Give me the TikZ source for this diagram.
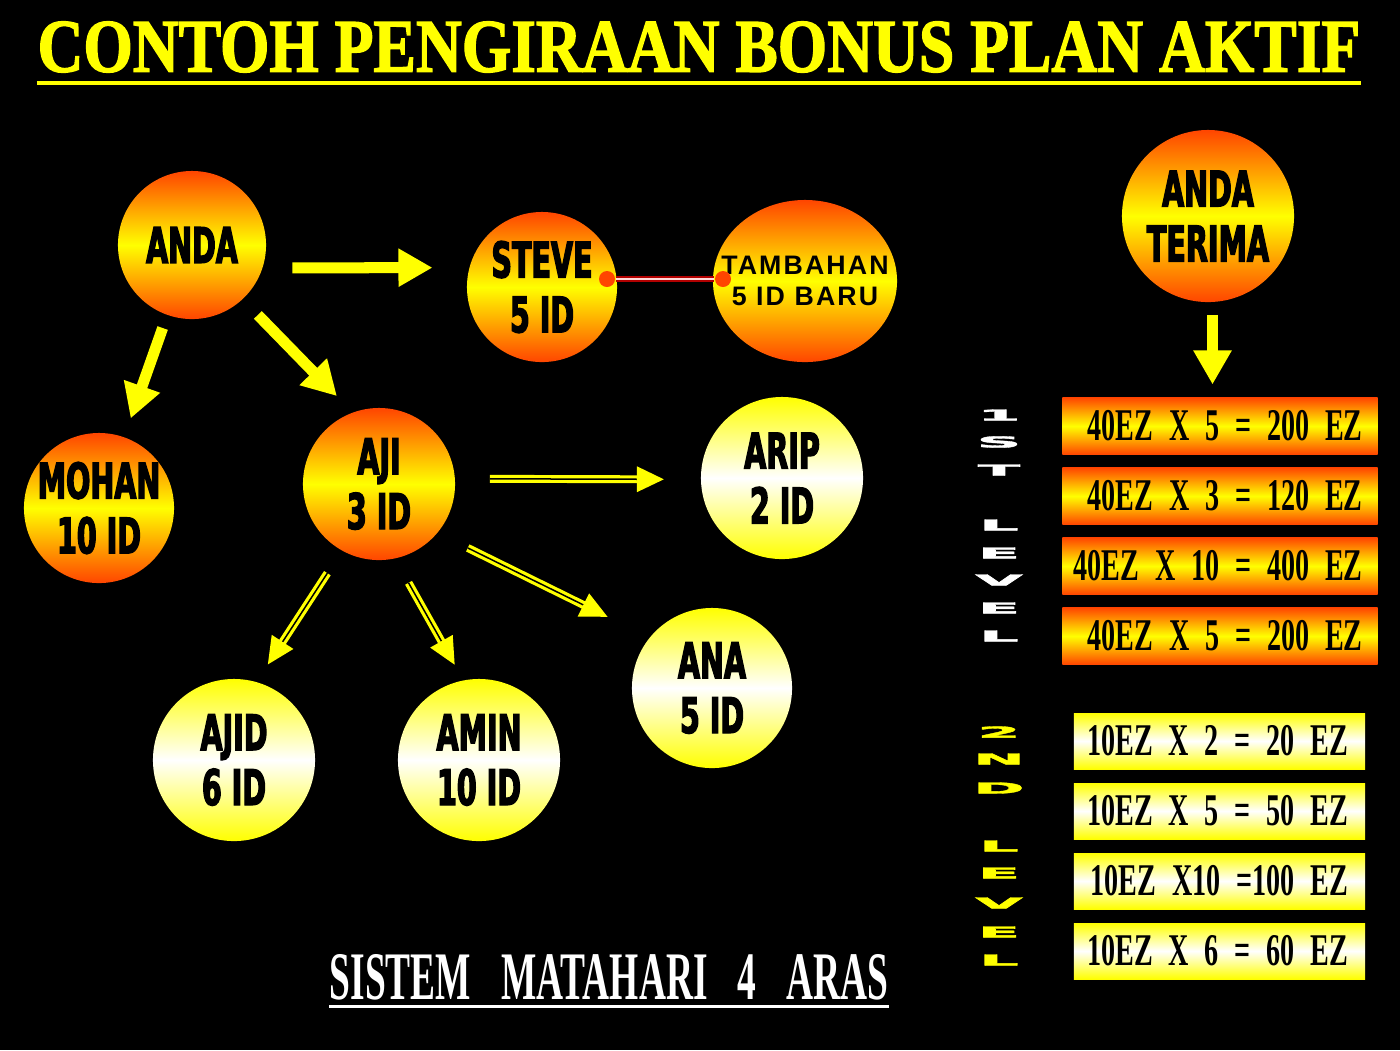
\documentclass[tikz,border=0pt]{standalone}
\usepackage{fontspec}
\usepackage{graphicx}
\usetikzlibrary{arrows.meta,shapes.geometric}

\newfontfamily\impact[FakeStretch=0.58,FakeBold=2.5]{DejaVu Sans Bold}
\newfontfamily\slab[FakeStretch=0.62,WordSpace=2.25]{Liberation Serif}
\newfontfamily\wide[LetterSpace=8]{Liberation Sans}
\newfontfamily\plaque[FakeBold=2]{Liberation Serif Bold}
\newfontfamily\capfont[WordSpace=3.2]{Liberation Serif}
\newfontfamily\stack[FakeBold=2]{DejaVu Sans Bold}

\definecolor{orangered}{RGB}{255,69,0}
\definecolor{sunyellow}{RGB}{255,255,0}

\tikzset{
  sun/.style={circle, inner sep=-8pt, outer sep=0pt, shading=axis,
    top color=orangered, bottom color=orangered, middle color=sunyellow,
    align=center, font=\impact\fontsize{14}{15.6}\selectfont},
  moon/.style={sun, top color=sunyellow, bottom color=sunyellow, middle color=white},
  bigarrow/.style={draw=sunyellow, line width=0.11cm,
    -{Triangle[length=0.34cm,width=0.36cm]}},
  twinarrow/.style={draw=sunyellow, line width=0.032cm, double=black,
    double distance=0.015cm, -{Triangle[length=0.27cm,width=0.25cm]}},
  ezbox/.style={rectangle, inner sep=0pt, outer sep=0pt, minimum width=3.15cm,
    minimum height=0.57cm, shading=axis, top color=orangered,
    bottom color=orangered, middle color=sunyellow,
    font=\slab\bfseries\fontsize{12.9}{14}\selectfont},
  ezboxb/.style={ezbox, minimum width=2.91cm, minimum height=0.56cm,
    top color=sunyellow, bottom color=sunyellow, middle color=white},
  reddot/.style={circle, fill=orangered, minimum size=0.16cm, inner sep=0pt},
  link/.style={draw=red!70!black, line width=0.45pt, double=red!15!white,
    double distance=0.6pt},
  lvl/.style={inner sep=0pt, font=\stack\fontsize{10}{10}\selectfont}
}
\newcommand{\ezrow}[2]{\makebox[#1][r]{#2}}

\begin{document}
\begin{tikzpicture}[x=0.01cm,y=-0.01cm]
  \fill[black] (0,0) rectangle (1400,1050);

  % title
  \node[inner sep=0pt, text=sunyellow] (title) at (699,47)
    {\resizebox{13.22cm}{0.5cm}{\plaque CONTOH PENGIRAAN BONUS PLAN AKTIF}};
  \draw[sunyellow, line width=0.04cm] ([yshift=-0.1cm]title.south west)
    -- ([yshift=-0.1cm]title.south east);

  % the sun
  \node[sun, minimum size=1.48cm] (anda) at (192,245) {ANDA};
  \node[sun, minimum size=1.50cm] (steve) at (542,287) {STEVE\\5 ID};
  \node[sun, ellipse, minimum width=1.84cm, minimum height=1.62cm,
    font=\wide\bfseries\fontsize{7.6}{8.8}\selectfont] (baru) at (805,281)
    {TAMBAHAN\\5 ID BARU};
  \node[sun, minimum size=1.52cm] (aji) at (379,484) {AJI\\3 ID};
  \node[sun, minimum size=1.50cm] (mohan) at (99,508) {MOHAN\\10 ID};
  \node[moon, minimum size=1.62cm] (arip) at (782,478) {ARIP\\2 ID};
  \node[moon, minimum size=1.62cm] (ajid) at (234,760) {AJID\\6 ID};
  \node[moon, minimum size=1.62cm] (amin) at (479,760) {AMIN\\10 ID};
  \node[moon, minimum size=1.60cm] (ana) at (712,688) {ANA\\5 ID};
  \node[sun, minimum size=1.72cm] (terima) at (1208,216) {ANDA\\TERIMA};

  \node[reddot] (dotl) at (607,279) {};
  \node[reddot] (dotr) at (723,279) {};
  \draw[link] (dotl.east) -- (dotr.west);

  \draw[bigarrow, shorten <=0.30cm, shorten >=0.37cm] (anda.-18) -- (steve.165);
  \draw[bigarrow, shorten <=0.14cm, shorten >=0.20cm] (anda) -- (mohan);
  \draw[bigarrow, shorten <=0.22cm, shorten >=0.23cm] (anda.-47) -- (aji.110);
  \draw[twinarrow, shorten <=0.35cm, shorten >=0.37cm] (aji.4) -- (arip.181);
  \draw[twinarrow, shorten <=0.27cm, shorten >=0.21cm] (aji.-119) -- (ajid.74);
  \draw[twinarrow, shorten <=0.28cm, shorten >=0.18cm] (aji.-78) -- (amin.101);
  \draw[twinarrow, shorten <=0.34cm, shorten >=0.47cm] (aji.-40) -- (ana.141);

  % level boxes
  \node[ezbox] (l1a) at (1220,426) {\ezrow{2.85cm}{40EZ X 5 = 200 EZ}};
  \node[ezbox] (l1b) at (1220,496) {\ezrow{2.85cm}{40EZ X 3 = 120 EZ}};
  \node[ezbox] (l1c) at (1220,566) {\ezrow{2.85cm}{40EZ X 10 = 400 EZ}};
  \node[ezbox] (l1d) at (1220,636) {\ezrow{2.85cm}{40EZ X 5 = 200 EZ}};
  \node[ezboxb] (l2a) at (1219.5,741) {\ezrow{2.57cm}{10EZ X 2 = 20 EZ}};
  \node[ezboxb] (l2b) at (1219.5,811) {\ezrow{2.57cm}{10EZ X 5 = 50 EZ}};
  \node[ezboxb] (l2c) at (1219.5,881) {\ezrow{2.57cm}{10EZ X10 =100 EZ}};
  \node[ezboxb] (l2d) at (1219.5,951) {\ezrow{2.57cm}{10EZ X 6 = 60 EZ}};

  \draw[bigarrow, shorten <=0.13cm, shorten >=0.13cm] (terima.-87) -- (terima.-87 |- l1a.north);

  \foreach \ch/\yy [count=\i] in {1/415,S/442,T/470,L/525,E/553,V/580,E/608,L/636}
    \node[lvl, text=white] (first\i) at (999,\yy) {\scalebox{1.75}[0.43]{\ch}};
  \foreach \ch/\yy [count=\i] in {2/732,N/759,D/788,L/846,E/873,V/903,E/932,L/960}
    \node[lvl, text=sunyellow] (second\i) at (999,\yy) {\scalebox{1.75}[0.43]{\ch}};

  % caption
  \node[inner sep=0pt, text=white] (caption) at (609,977.5)
    {\resizebox{5.58cm}{0.45cm}{\capfont\bfseries SISTEM MATAHARI 4 ARAS}};
  \draw[white, line width=0.03cm] ([yshift=-0.05cm]caption.south west)
    -- ([yshift=-0.05cm]caption.south east);
\end{tikzpicture}
\end{document}
